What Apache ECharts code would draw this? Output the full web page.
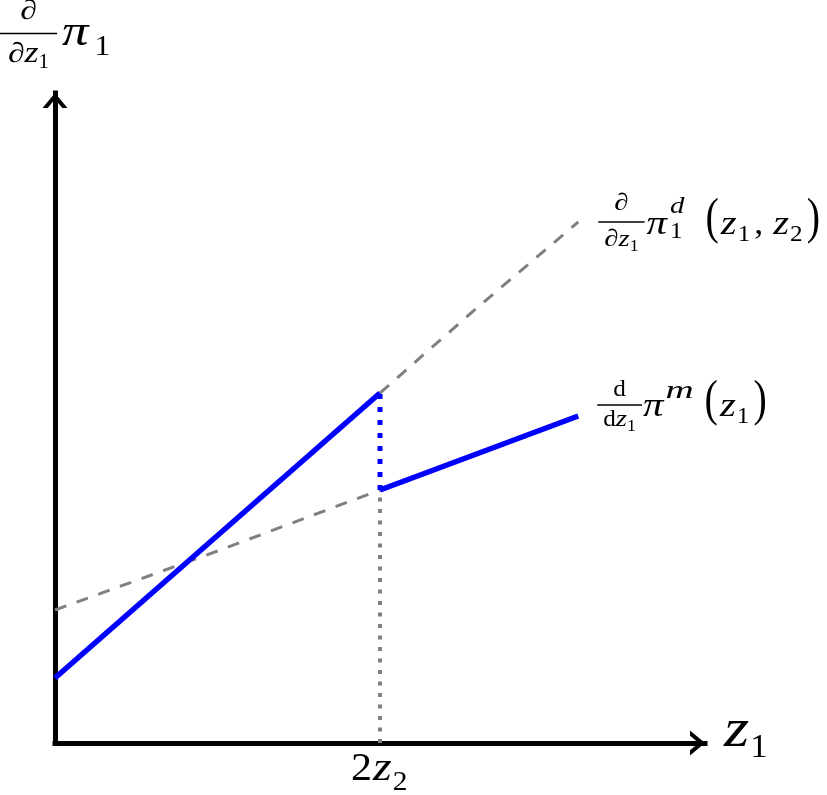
<!DOCTYPE html>
<html lang="en">
<head>
    <meta charset="UTF-8">
    <title>Marginal profit</title>
    <style>
        html, body { margin: 0; padding: 0; background: #fff; }
    </style>
</head>
<body>
<div id="main" style="width: 827px;height:795px;"></div>

<script type="text/javascript" src="https://cdn.jsdelivr.net/npm/echarts@6/dist/echarts.min.js"></script>
<script>

    // x is measured in units of 2*z2, y in arbitrary units
    var kink = 1;                       // position of 2 z2 on the z1 axis
    var xMax = 2;
    var yMax = 6.5;

    // d/dz1 pi1^d, solid part (left of the kink) and dashed continuation
    var devX = [0, 1];
    var devY = [0.65, 3.50];
    var devExtX = [1, 1.28, 1.61];
    var devExtY = [3.50, 4.30, 5.21];

    // d/dz1 pi^m, solid part (right of the kink) and dashed continuation
    var monX = [1, 1.61];
    var monY = [2.53, 3.27];
    var monExtX = [0, 0.5, 1];
    var monExtY = [1.33, 1.92, 2.53];

    var blue = '#0000ff';
    var grey = '#808080';
    var font = 'Liberation Serif';

    function pairs(xs, ys) {
        var out = [];
        for (var i = 0; i < xs.length; i++) {
            out.push([xs[i], ys[i]]);
        }
        return out;
    }

    var myChart = echarts.init(document.getElementById('main'));

    // chevron arrow head, pointing up
    var arrowHead = 'path://M12.5,0 L25,15 L19.8,15 L12.5,6.2 L5.2,15 L0,15 Z';

    var axisLine = {
        show: true,
        symbol: ['none', arrowHead],
        symbolSize: [25, 15],
        symbolOffset: [0, -7.5],
        lineStyle: { color: '#000', width: 5, cap: 'square' }
    };

    var option = {
        animation: false,
        grid: { left: 55, right: 122, top: 93, bottom: 52, containLabel: false },
        xAxis: {
            type: 'value', min: 0, max: xMax,
            axisLine: axisLine,
            axisTick: { show: false },
            axisLabel: { show: false },
            splitLine: { show: false }
        },
        yAxis: {
            type: 'value', min: 0, max: yMax,
            axisLine: axisLine,
            axisTick: { show: false },
            axisLabel: { show: false },
            splitLine: { show: false }
        },
        series: [
            {
                // guide from the axis up to the kink
                type: 'line', symbol: 'none', silent: true,
                data: [[kink, 0], [kink, monY[0]]],
                lineStyle: { color: grey, width: 4, type: [4, 7.5] }
            },
            {
                type: 'line', symbol: 'none', silent: true,
                data: pairs(monExtX, monExtY),
                lineStyle: { color: grey, width: 3, type: [12, 11] }
            },
            {
                type: 'line', symbol: 'none', silent: true,
                data: pairs(devExtX, devExtY),
                lineStyle: { color: grey, width: 3, type: [12, 11] }
            },
            {
                type: 'line', symbol: 'none', silent: true,
                data: pairs(devX, devY),
                lineStyle: { color: blue, width: 5.5 }
            },
            {
                type: 'line', symbol: 'none', silent: true,
                data: pairs(monX, monY),
                lineStyle: { color: blue, width: 5.5 }
            },
            {
                // the jump at 2 z2
                type: 'line', symbol: 'none', silent: true,
                data: [[kink, monY[0]], [kink, devY[devY.length - 1]]],
                lineStyle: { color: blue, width: 5, type: [5, 8] }
            }
        ]
    };

    myChart.setOption(option);

    // ---- math labels: tiny left-to-right typesetter ----
    var ctx = document.createElement('canvas').getContext('2d');

    // glyph: text, size, italic, baseline shift, gap before, horizontal stretch
    function G(t, s, it, dy, gap, sx) {
        return { t: t, s: s, it: it, dy: dy || 0, gap: gap || 0, sx: sx || (it ? 1.2 : 1.05) };
    }
    function glyphWidth(g) {
        ctx.font = (g.it ? 'italic ' : '') + g.s + 'px "' + font + '"';
        return g.gap + ctx.measureText(g.t).width * g.sx;
    }
    function runWidth(run) {
        var w = 0;
        run.forEach(function (g) {
            if (g.stack) {
                var m = 0;
                g.stack.forEach(function (s) { m = Math.max(m, runWidth([s])); });
                w += m;
            } else if (g.num) {
                w += Math.max(runWidth(g.num), runWidth(g.den)) + 2 * g.pad + (g.after || 0);
            } else {
                w += glyphWidth(g);
            }
        });
        return w;
    }
    function drawRun(run, x, base, out) {
        run.forEach(function (g) {
            if (g.stack) {
                var m = 0;
                g.stack.forEach(function (s) {
                    drawRun([s], x, base, out);
                    m = Math.max(m, runWidth([s]));
                });
                x += m;
            } else if (g.num) {
                var wn = runWidth(g.num), wd = runWidth(g.den);
                var w = Math.max(wn, wd) + 2 * g.pad;
                drawRun(g.num, x + (w - wn) / 2, base + g.numDy, out);
                drawRun(g.den, x + (w - wd) / 2, base + g.denDy, out);
                out.push({
                    type: 'rect', silent: true,
                    shape: { x: x, y: base + g.barDy - 0.7, width: w, height: 1.5 },
                    style: { fill: '#000' }
                });
                x += w + (g.after || 0);
            } else {
                x += g.gap;
                out.push({
                    type: 'text', silent: true,
                    x: x, y: base + g.dy - 0.34 * g.s,
                    scaleX: g.sx,
                    style: {
                        text: g.t, fontSize: g.s, fontFamily: font,
                        fontStyle: g.it ? 'italic' : 'normal',
                        fill: '#000', align: 'left', verticalAlign: 'middle'
                    }
                });
                x += glyphWidth(g) - g.gap;
            }
        });
    }

    var toPx = function (p) { return myChart.convertToPixel({ gridIndex: 0 }, p); };
    var yTop = toPx([0, yMax]);
    var xEnd = toPx([xMax, 0]);
    var kinkPx = toPx([kink, 0]);
    var devEnd = toPx([devExtX[devExtX.length - 1], devExtY[devExtY.length - 1]]);
    var monEnd = toPx([monX[monX.length - 1], monY[monY.length - 1]]);

    var D = '\u2202', PI = '\u03c0';
    var g = [];

    // y axis name: d/dz1 pi1
    drawRun([
        { num: [G(D, 28, true)], den: [G(D, 28, true), G('z', 30, true), G('1', 20, false, 6)],
          numDy: -27, denDy: 16, barDy: -14.5, pad: 8 },
        G(PI, 44, true, 0, 5),
        G('1', 30, false, 9, 6)
    ], yTop[0] - 55, yTop[1] - 45, g);

    // x axis name: z1
    drawRun([G('z', 54, true), G('1', 33, false, 10, 1)], xEnd[0] + 19, xEnd[1] + 7, g);

    // tick label 2 z2
    drawRun([G('2', 40, false), G('z', 40, true, 0, 1), G('2', 28, false, 9, 1)], kinkPx[0] - 29, kinkPx[1] + 40, g);

    // d/dz1 pi1^d(z1, z2)
    drawRun([
        { num: [G(D, 24, true)], den: [G(D, 24, true), G('z', 24, true), G('1', 17, false, 4)],
          numDy: -25, denDy: 11, barDy: -15, pad: 6 },
        G(PI, 34, true, 0, 2),
        { stack: [G('d', 24, true, -22, 3), G('1', 24, false, 3, 3)] },
        G('(', 50, false, 0, 21, 0.8),
        G('z', 34, true, 0, 2),
        G('1', 24, false, 6, 1),
        G(',', 34, false, 0, 4),
        G('z', 34, true, 0, 10),
        G('2', 24, false, 6, 1),
        G(')', 50, false, 0, 4, 0.8)
    ], devEnd[0] + 20, devEnd[1] + 15, g);

    // d/dz1 pi^m(z1)
    drawRun([
        { num: [G('d', 24, false)], den: [G('d', 24, false), G('z', 24, true), G('1', 17, false, 4)],
          numDy: -21, denDy: 9, barDy: -14, pad: 6 },
        G(PI, 34, true, 0, 1),
        G('m', 26, true, -19, 2, 1.5),
        G('(', 50, false, 0, 11, 0.8),
        G('z', 34, true, 0, 2),
        G('1', 24, false, 6, 1),
        G(')', 50, false, 0, 4, 0.8)
    ], monEnd[0] + 19, monEnd[1] + 3, g);

    myChart.setOption({ graphic: g });

</script>

</body>
</html>
